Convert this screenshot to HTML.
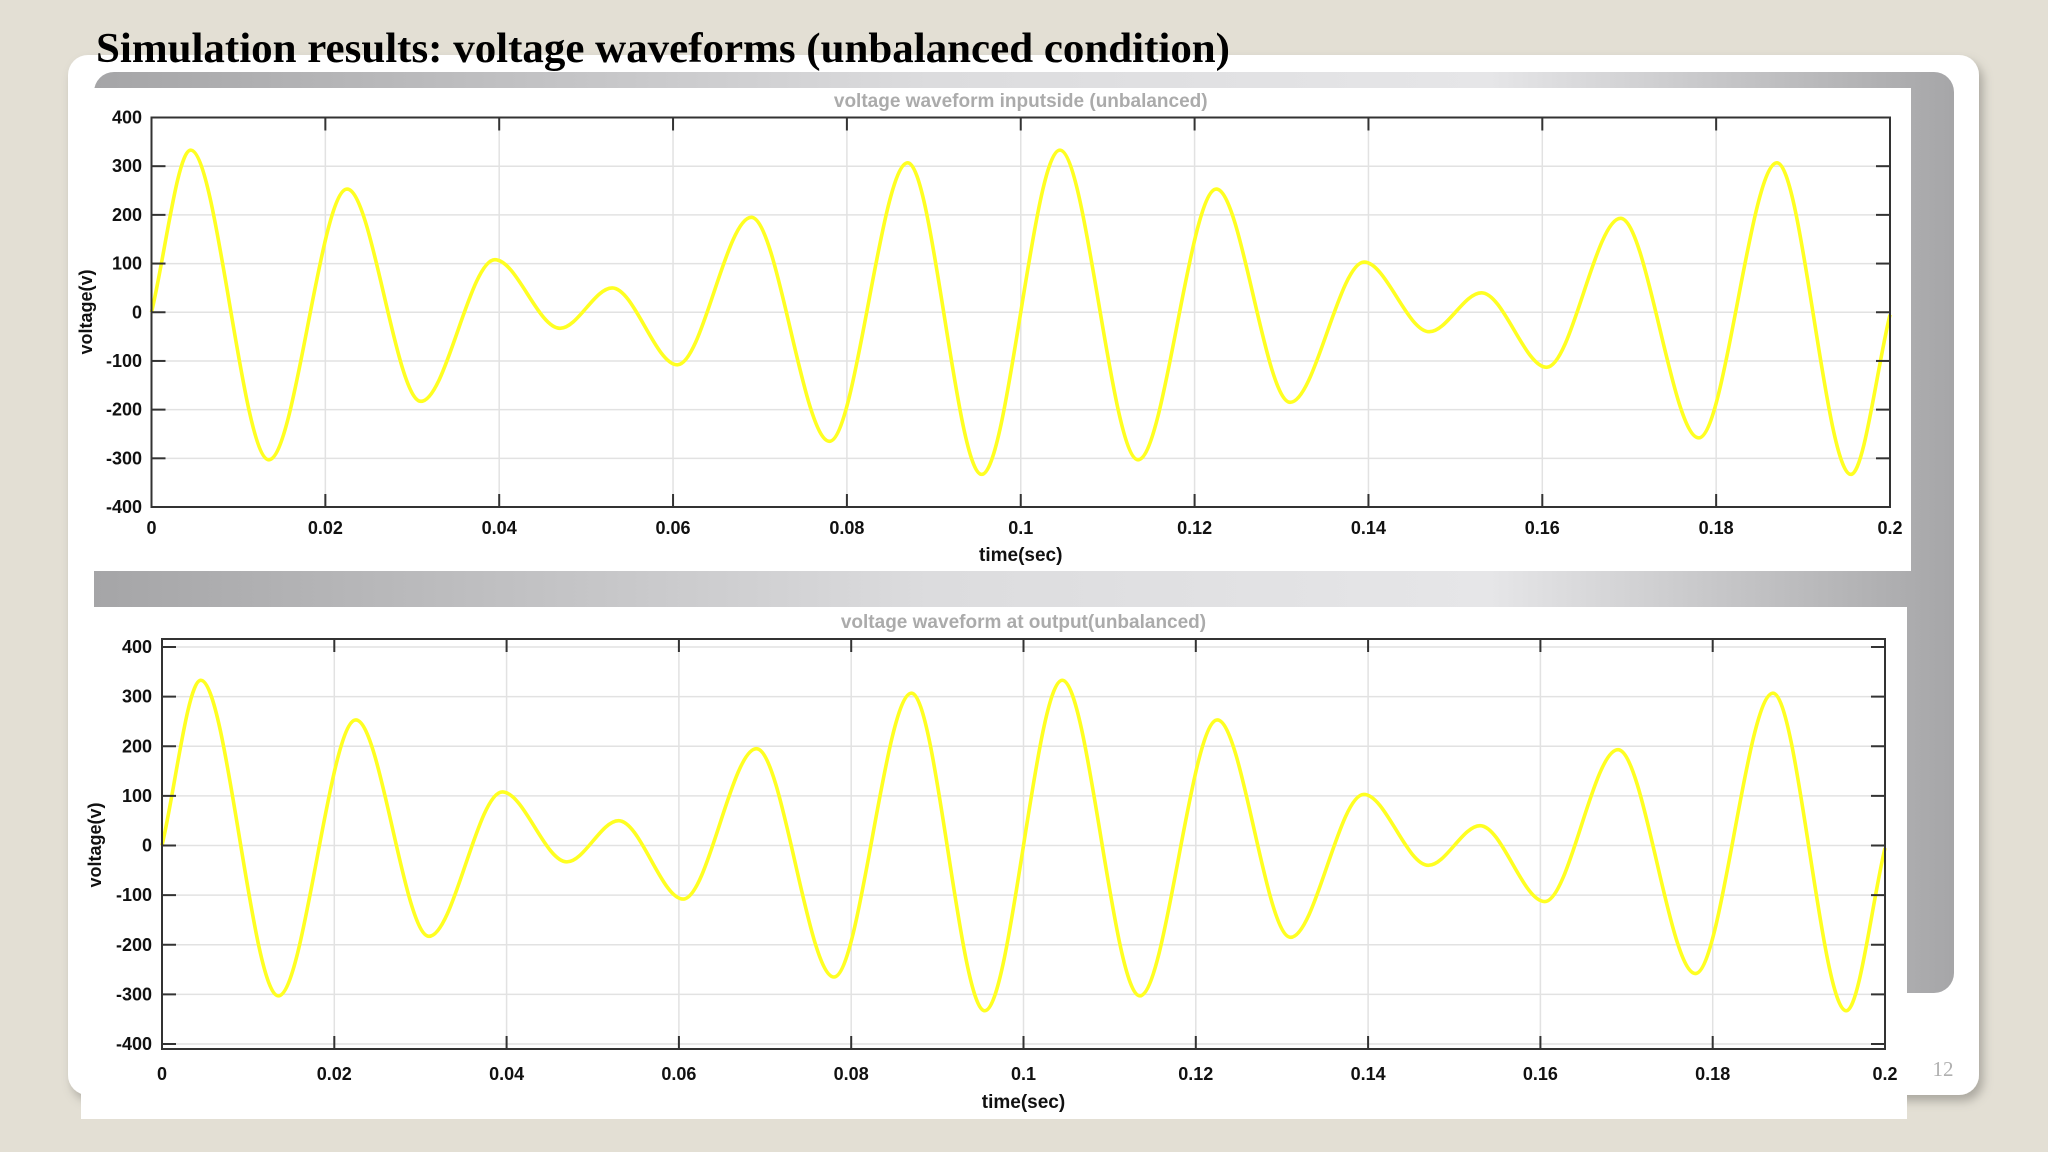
<!DOCTYPE html>
<html><head><meta charset="utf-8"><style>
html,body{margin:0;padding:0;background:#e3dfd4;}
svg{display:block;font-family:"Liberation Sans",sans-serif;}
</style></head><body>
<svg id="root" width="2048" height="1152" viewBox="0 0 2048 1152">
<defs>
<linearGradient id="gband" x1="0" x2="1" y1="0" y2="0">
<stop offset="0" stop-color="#a5a5a7"/><stop offset="0.45" stop-color="#dcdcde"/><stop offset="0.75" stop-color="#e6e6e8"/><stop offset="1" stop-color="#a6a6a8"/>
</linearGradient>
<filter id="sh" x="-5%" y="-5%" width="110%" height="110%"><feDropShadow dx="4" dy="6" stdDeviation="5" flood-color="#000" flood-opacity="0.25"/></filter>
</defs>
<rect x="0" y="0" width="2048" height="1152" fill="#e3dfd4"/>
<rect x="68" y="55" width="1911" height="1040" rx="20" fill="#fff" filter="url(#sh)"/>
<rect x="94" y="72" width="1860" height="921" rx="20" fill="url(#gband)"/>
<rect x="68" y="88" width="1843" height="483" fill="#fff"/>
<rect x="81" y="607" width="1826" height="512" fill="#fff"/>
<text x="96" y="62" font-family="Liberation Serif,serif" font-weight="bold" font-size="42" textLength="1134" lengthAdjust="spacingAndGlyphs" fill="#000">Simulation results:  voltage waveforms (unbalanced condition)</text>
<text x="1943" y="1076" font-family="Liberation Serif,serif" font-size="21" fill="#b0b0b0" text-anchor="middle">12</text>
<g id="charts"></g>
</svg>
<script>
const times = [0, 0.0045, 0.0135, 0.0225, 0.031, 0.0395, 0.047, 0.053, 0.0605, 0.069, 0.078, 0.087, 0.0955, 0.1045, 0.1135, 0.1225, 0.131, 0.1395, 0.147, 0.153, 0.1605, 0.169, 0.178, 0.187, 0.1955, 0.2];
const volts = [0, 333, -303, 253, -183, 108, -33, 50, -108, 195, -265, 307, -333, 333, -303, 253, -185, 103, -40, 40, -113, 193, -258, 307, -333, -5];
const xTicks = [0, 0.02, 0.04, 0.06, 0.08, 0.1, 0.12, 0.14, 0.16, 0.18, 0.2];
const xTickLabels = ["0","0.02","0.04","0.06","0.08","0.1","0.12","0.14","0.16","0.18","0.2"];
const yTicks = [400, 300, 200, 100, 0, -100, -200, -300, -400];

const NS = "http://www.w3.org/2000/svg";
function mk(tag, attrs, parent, txt){
  const e = document.createElementNS(NS, tag);
  for (const k in attrs) e.setAttribute(k, attrs[k]);
  if (txt !== undefined) e.textContent = txt;
  parent.appendChild(e);
  return e;
}
function monotonePath(px, py){
  const n = px.length, d = [], m = [];
  for (let i=0;i<n-1;i++) d.push((py[i+1]-py[i])/(px[i+1]-px[i]));
  m.push(d[0]);
  for (let i=1;i<n-1;i++) m.push(d[i-1]*d[i] <= 0 ? 0 : (d[i-1]+d[i])/2);
  m.push(d[n-2]);
  let s = "M" + px[0] + "," + py[0];
  for (let i=0;i<n-1;i++){
    const h = px[i+1]-px[i];
    s += " C" + (px[i]+h/3) + "," + (py[i]+m[i]*h/3) + " " + (px[i+1]-h/3) + "," + (py[i+1]-m[i+1]*h/3) + " " + px[i+1] + "," + py[i+1];
  }
  return s;
}
function chart(cfg){
  const root = document.getElementById("charts");
  const g = mk("g", {}, root);
  
  
  const xs = t => cfg.x0 + (t - 0) / 0.2 * (cfg.x1 - cfg.x0);
  const ys = v => cfg.ya + (400 - v) / 800 * (cfg.yb - cfg.ya);
  // grid
  xTicks.forEach(t => {
    const l = mk("line", {x1:xs(t), x2:xs(t), y1:cfg.by0, y2:cfg.by1, stroke:"#e2e2e2", "stroke-width":1.5}, g);
    
    
  });
  yTicks.forEach(v => {
    const l = mk("line", {x1:cfg.x0, x2:cfg.x1, y1:ys(v), y2:ys(v), stroke:"#e2e2e2", "stroke-width":1.5}, g);
    
    
  });
  // series
  const p = mk("path", {d: monotonePath(times.map(xs), volts.map(ys)), fill:"none", stroke:"#ffff22", "stroke-width":3.6, "stroke-linejoin":"round"}, g);
  
  
  // ticks
  xTicks.forEach((t,i) => {
    const a = mk("line", {x1:xs(t), x2:xs(t), y1:cfg.by0, y2:cfg.by0+13, stroke:"#333", "stroke-width":2}, g);
    
    
    const b = mk("line", {x1:xs(t), x2:xs(t), y1:cfg.by1, y2:cfg.by1-13, stroke:"#333", "stroke-width":2}, g);
    
    
    const lb = mk("text", {x:xs(t), y:cfg.xly, "text-anchor":"middle", "font-size":18, "font-weight":"bold", fill:"#111"}, g, xTickLabels[i]);
    
    
  });
  yTicks.forEach(v => {
    const a = mk("line", {x1:cfg.x0, x2:cfg.x0+14, y1:ys(v), y2:ys(v), stroke:"#333", "stroke-width":2}, g);
    
    
    const b = mk("line", {x1:cfg.x1, x2:cfg.x1-14, y1:ys(v), y2:ys(v), stroke:"#333", "stroke-width":2}, g);
    
    
    const lb = mk("text", {x:cfg.ylx, y:ys(v)+6, "text-anchor":"end", "font-size":18, "font-weight":"bold", fill:"#111"}, g, String(v));
    
    
  });
  const box = mk("rect", {x:cfg.x0, y:cfg.by0, width:cfg.x1-cfg.x0, height:cfg.by1-cfg.by0, fill:"none", stroke:"#333", "stroke-width":2}, g);
  
  
  const tt = mk("text", {x:(cfg.x0+cfg.x1)/2, y:cfg.ty, "text-anchor":"middle", "font-size":19, "font-weight":"bold", fill:"#ababab"}, g, cfg.title);
  
  
  const xl = mk("text", {x:(cfg.x0+cfg.x1)/2, y:cfg.xty, "text-anchor":"middle", "font-size":19, "font-weight":"bold", fill:"#111"}, g, "time(sec)");
  
  
  const yl = mk("text", {x:0, y:0, "text-anchor":"middle", "font-size":18, "font-weight":"bold", fill:"#111", transform:"translate("+cfg.ytx+","+cfg.yty+") rotate(-90)"}, g, "voltage(v)");
  
  
}
chart({name:"input-voltage-chart", title:"voltage waveform inputside (unbalanced)", x0:151.5, x1:1890, ya:117.5, yb:507, by0:117.5, by1:507, xly:534, ylx:142, ty:107, xty:561, ytx:92, yty:312});
chart({name:"output-voltage-chart", title:"voltage waveform at output(unbalanced)", x0:162, x1:1885, ya:647, yb:1044, by0:639, by1:1049, xly:1080, ylx:152, ty:628, xty:1108, ytx:101, yty:845});
</script>
</body></html>
